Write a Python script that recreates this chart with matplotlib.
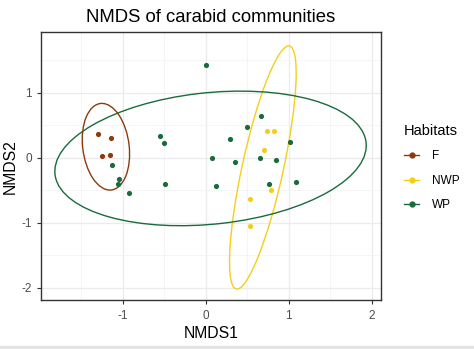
import numpy as np
import matplotlib.pyplot as plt
from matplotlib.patches import Ellipse, Rectangle
from matplotlib.lines import Line2D

plt.rcParams['font.family'] = ['Liberation Sans', 'DejaVu Sans']
plt.rcParams['axes.unicode_minus'] = False

# site scores
f_x = [-1.29, -1.14, -1.25, -1.15]
f_y = [0.36, 0.31, 0.02, 0.04]

nwp_x = [0.74, 0.83, 0.70, 0.79, 0.54, 0.53]
nwp_y = [0.41, 0.42, 0.12, -0.50, -0.63, -1.05]

wp_x = [0.00, -0.55, -0.50, -1.13, -1.04, -1.06, -0.92, -0.49,
        0.67, 0.50, 0.29, 1.02, 0.08, 0.36, 0.65, 0.85, 0.13, 0.76, 1.09]
wp_y = [1.43, 0.33, 0.23, -0.11, -0.32, -0.41, -0.54, -0.40,
        0.65, 0.47, 0.29, 0.24, -0.01, -0.07, -0.01, -0.03, -0.44, -0.41, -0.38]

habitats = ['F', 'NWP', 'WP']
colors = ['#8C3A0E', '#F2CF1D', '#1A6B3C']

# ellipses: centre x, centre y, semi-axis a, semi-axis b, angle (deg)
ell_cx = [-1.20, 0.69, 0.06]
ell_cy = [0.17, -0.15, -0.01]
ell_a = [0.67, 1.90, 1.89]
ell_b = [0.28, 0.25, 1.01]
ell_ang = [95, 80.4, 8.5]

fig = plt.figure(figsize=(4.74, 3.49), dpi=100)
ax = fig.add_axes([0.0865, 0.139, 0.7175, 0.769])

for xs, ys, c in zip([f_x, nwp_x, wp_x], [f_y, nwp_y, wp_y], colors):
    ax.scatter(xs, ys, s=14, color=c, zorder=3, linewidths=0)

for i in range(3):
    e = Ellipse((ell_cx[i], ell_cy[i]), 2*ell_a[i], 2*ell_b[i], angle=ell_ang[i],
                fill=False, edgecolor=colors[i], linewidth=1.0, zorder=2)
    ax.add_patch(e)

ax.set_xlim(-1.982, 2.114)
ax.set_ylim(-2.2, 1.937)
ax.set_xticks([-1, 0, 1, 2])
ax.set_yticks([-2, -1, 0, 1])
ax.set_xticks([-1.5, -0.5, 0.5, 1.5], minor=True)
ax.set_yticks([-1.5, -0.5, 0.5, 1.5], minor=True)
ax.grid(which='major', color='#EBEBEB', linewidth=0.9, zorder=0)
ax.grid(which='minor', color='#F2F2F2', linewidth=0.5, zorder=0)
ax.set_axisbelow(True)
ax.tick_params(which='major', length=3, width=0.8, color='#333333',
               labelsize=8.5, labelcolor='#4D4D4D')
ax.tick_params(which='minor', length=0)
for sp in ax.spines.values():
    sp.set_color('#333333')
    sp.set_linewidth(1.0)

ax.set_xlabel('NMDS1', fontsize=11.3, labelpad=3)
ax.set_ylabel('NMDS2', fontsize=11.3, labelpad=3)
ax.set_title('NMDS of carabid communities', fontsize=13.3, pad=7)

handles = [Line2D([0], [0], color=c, marker='o', markersize=3.5, linewidth=1.0)
           for c in colors]
leg = fig.legend(handles, habitats, title='Habitats', loc='center left',
                 bbox_to_anchor=(0.83, 0.52), frameon=False, fontsize=8.5,
                 title_fontsize=10.5, handlelength=1.3, handletextpad=1.1,
                 labelspacing=1.05, alignment='left')

fig.patches.append(Rectangle((0, 0), 1, 0.009, transform=fig.transFigure,
                             color='#E3E3E3', zorder=0))

fig.savefig('out.png', dpi=100)
